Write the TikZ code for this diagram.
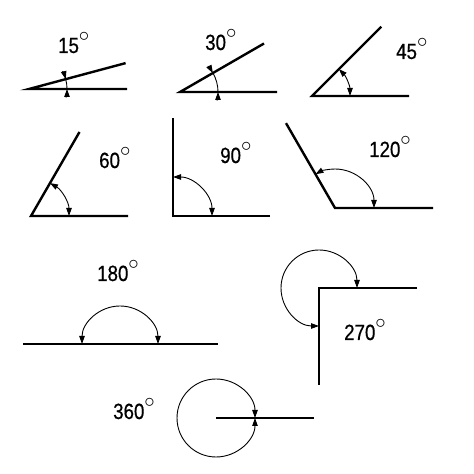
\documentclass[tikz,border=0pt]{standalone}
\usepackage{fontspec}
\setmainfont{Liberation Sans}[FakeStretch=0.85,FakeBold=0.6]
\usetikzlibrary{arrows.meta}
\tikzset{
  leg/.style={line width=2.4pt},
  swing/.style={line width=0.9pt,>={Triangle[length=8pt,width=5.5pt]}},
  deg/.style={anchor=base west,inner sep=0pt,font=\fontsize{22}{26}\selectfont}
}
\newcommand{\dg}{\raisebox{1.0ex}{\scalebox{1.0}{$\circ$}}}
\begin{document}
\begin{tikzpicture}[x=1pt,y=1pt]
\useasboundingbox (0,0) rectangle (474,474);
\draw[leg] (127,385) -- (29,385) coordinate (o15) -- ++(15:100);
\draw[swing,->] (o15) ++(28:38) arc (28:15:38);
\draw[swing] (o15) ++(15:38) arc (15:0:38);
\draw[swing,->] (o15) ++(-13:38) arc (-13:0:38);
\node[deg] (t15) at (58,421) {15\dg};
\draw[leg] (277,382) -- (180,382) coordinate (o30) -- ++(30:97);
\draw[swing,->] (o30) ++(43:38) arc (43:30:38);
\draw[swing] (o30) ++(30:38) arc (30:0:38);
\draw[swing,->] (o30) ++(-13:38) arc (-13:0:38);
\node[deg] (t30) at (205,424) {30\dg};
\draw[leg] (409,378) -- (312,378) coordinate (o45) -- ++(45:98);
\draw[swing,<->] (o45) ++(0:38) arc (0:45:38);
\node[deg] (t45) at (396,415) {45\dg};
\draw[leg] (128,258) -- (31,258) coordinate (o60) -- ++(60:97);
\draw[swing,<->] (o60) ++(0:38) arc (0:60:38);
\node[deg] (t60) at (99,306) {60\dg};
\draw[leg] (270,258) -- (173,258) coordinate (o90) -- ++(90:98);
\draw[swing,<->] (o90) ++(0:39) arc (0:90:39);
\node[deg] (t90) at (220,311) {90\dg};
\draw[leg] (433,266) -- (335,266) coordinate (o120) -- ++(120:98);
\draw[swing,<->] (o120) ++(0:39) arc (0:120:39);
\node[deg] (t120) at (369,317) {120\dg};
\draw[leg] (23,130) -- (218,130);
\coordinate (o180) at (120,130);
\draw[swing,<->] (o180) ++(0:38) arc (0:180:38);
\node[deg] (t180) at (97,193) {180\dg};
\draw[leg] (417,186) -- (319,186) coordinate (o270) -- (319,89);
\draw[swing,<->] (o270) ++(0:38) arc (0:270:38);
\node[deg] (t270) at (344,134) {270\dg};
\draw[leg] (216,56) coordinate (o360) -- (314,56);
\draw[swing,->] (o360) ++(180:39) arc (180:360:39);
\draw[swing,->] (o360) ++(180:39) arc (180:0:39);
\node[deg] (t360) at (113,55) {360\dg};
\end{tikzpicture}
\end{document}
